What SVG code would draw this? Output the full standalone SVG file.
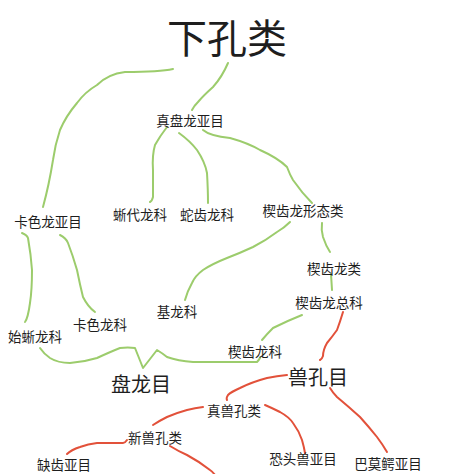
<svg xmlns="http://www.w3.org/2000/svg" width="474" height="474" viewBox="0 0 474 474">
<style>
text{font-family:"Noto Sans CJK SC","Noto Sans",sans-serif;fill:#1e1e1e;text-anchor:middle;dominant-baseline:central}
.s{font-size:13.5px}
.m{font-size:20px}
.l{font-size:40px}
.g{fill:none;stroke:#9ccc6c;stroke-width:2;stroke-linecap:round;stroke-linejoin:round}
.r{fill:none;stroke:#e2513a;stroke-width:2;stroke-linecap:round;stroke-linejoin:round}
</style>
<rect width="474" height="474" fill="#ffffff"/>
<g id="connectors">
<path class="g" d="M173,69 Q160,72 125,72 Q108,74 97,85 Q85,92 77,103 Q66,116 60,130 Q55,145 53,160 Q49,185 43,207"/>
<path class="g" d="M228,63 Q222,77 213,87 Q203,96 198,102 Q194,106 192,110"/>
<path class="g" d="M167,127 Q160,136 155,145 Q152,155 153,170 L153,197 Q152,201 150,202"/>
<path class="g" d="M179,133 Q190,141 197,150 Q205,162 207,173 Q208,190 208,203"/>
<path class="g" d="M203,130 Q210,136 230,138 Q248,143 260,150 Q278,158 287,167 Q290,175 293,180 Q302,193 312,203"/>
<path class="g" d="M290,222 Q284,228 277,232 Q265,241 253,247 Q240,253 227,258 Q212,264 203,270 Q195,276 192,283 Q187,292 185,300"/>
<path class="g" d="M322,223 Q321,230 323,237 Q326,246 330,252"/>
<path class="g" d="M331,274 L332,290"/>
<path class="g" d="M302,315 Q287,321 273,328 Q267,334 262,340"/>
<path class="g" d="M22,233 Q27,235 28,238 Q31,255 32,270 Q32,290 30,303 Q28,318 25,322"/>
<path class="g" d="M60,235 Q66,238 68,243 Q73,256 77,270 Q80,285 83,297 Q88,307 95,312"/>
<path class="g" d="M40,348 Q44,354 50,358 Q58,363 70,363 Q84,362 97,358 Q110,352 120,348 Q128,347 135,348 L143,368 L157,350 Q162,353 167,357 Q178,361 193,362 L240,362 Q252,362 257,362 Q259,360 260,358"/>
<path class="r" d="M343,312 Q340,322 337,330 Q332,337 327,343 Q323,350 323,356 Q322,359 320,360"/>
<path class="r" d="M287,375 Q277,376 267,378 Q252,382 240,388 Q231,392 228,395 Q226,398 227,400"/>
<path class="r" d="M203,407 Q195,408 187,410 Q176,413 167,417 Q159,421 153,425"/>
<path class="r" d="M127,440 Q125,443 123,443 L97,443 Q88,444 80,447 Q71,450 67,454"/>
<path class="r" d="M170,446 Q178,451 187,455 Q200,462 210,470 Q213,472 215,475"/>
<path class="r" d="M265,405 Q272,408 280,412 Q289,417 293,423 Q299,431 302,440 Q304,447 305,453"/>
<path class="r" d="M330,388 Q333,393 337,397 Q349,407 360,417 Q369,427 377,437 Q383,445 387,452"/>
</g>
<g id="n-root"><text class="l" x="227" y="36">下孔类</text></g>
<g id="n-zhenpanlong"><text class="s" x="190" y="120">真盘龙亚目</text></g>
<g id="n-kaselongyamu"><text class="s" x="48" y="221">卡色龙亚目</text></g>
<g id="n-xidailong"><text class="s" x="140" y="214">蜥代龙科</text></g>
<g id="n-shechilong"><text class="s" x="207" y="214">蛇齿龙科</text></g>
<g id="n-xiechixingtai"><text class="s" x="303" y="210">楔齿龙形态类</text></g>
<g id="n-xiechilei"><text class="s" x="334" y="268">楔齿龙类</text></g>
<g id="n-xiechizong"><text class="s" x="329" y="302">楔齿龙总科</text></g>
<g id="n-jilong"><text class="s" x="177" y="311">基龙科</text></g>
<g id="n-kaselongke"><text class="s" x="100" y="324">卡色龙科</text></g>
<g id="n-shixi"><text class="s" x="35" y="336">始蜥龙科</text></g>
<g id="n-xiechike"><text class="s" x="255" y="351">楔齿龙科</text></g>
<g id="n-panlongmu"><text class="m" x="141" y="383">盘龙目</text></g>
<g id="n-shoukongmu"><text class="m" x="318" y="376">兽孔目</text></g>
<g id="n-zhenshou"><text class="s" x="234" y="410">真兽孔类</text></g>
<g id="n-xinshou"><text class="s" x="155" y="437">新兽孔类</text></g>
<g id="n-quechi"><text class="s" x="64" y="464">缺齿亚目</text></g>
<g id="n-kongtou"><text class="s" x="303" y="458">恐头兽亚目</text></g>
<g id="n-bamo"><text class="s" x="388" y="463">巴莫鳄亚目</text></g>
</svg>
